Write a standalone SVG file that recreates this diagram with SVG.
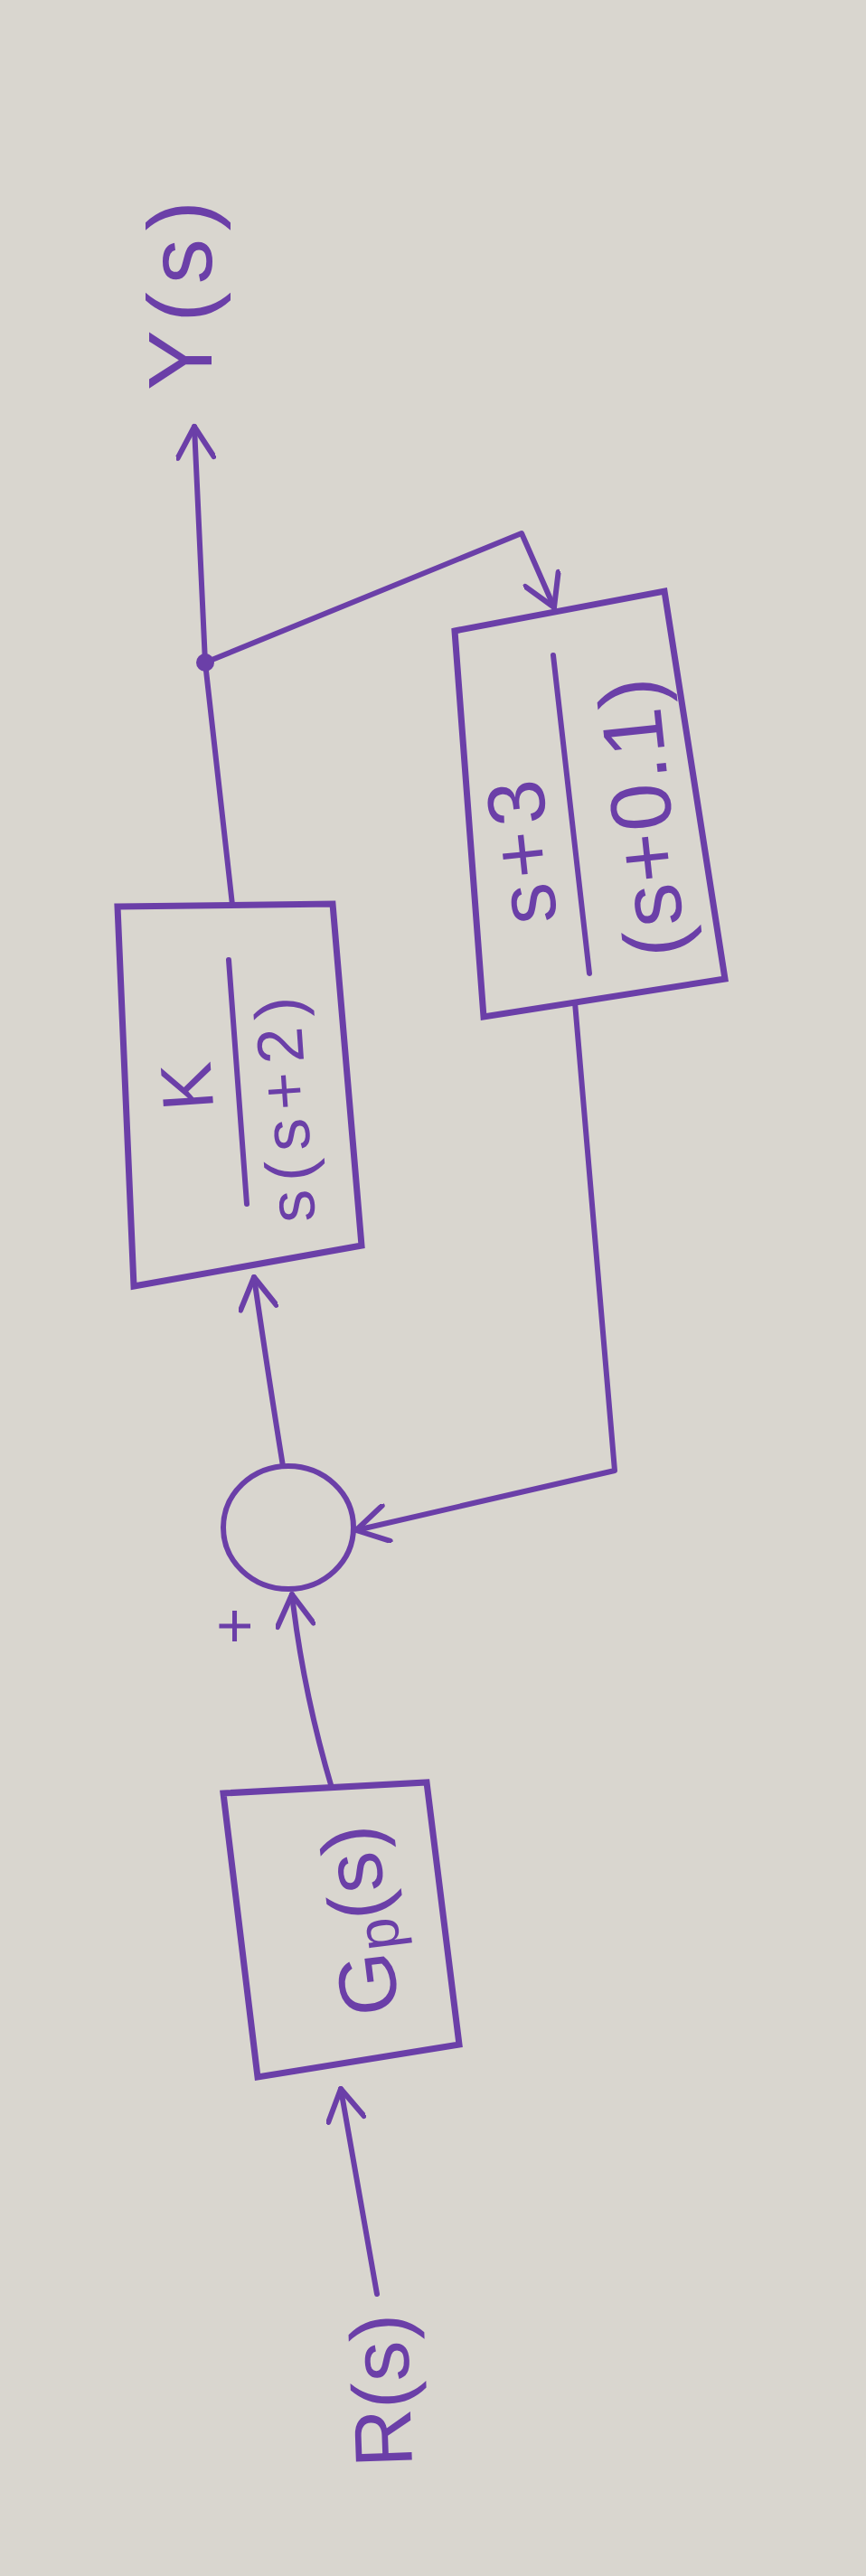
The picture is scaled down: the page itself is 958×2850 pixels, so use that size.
<svg xmlns="http://www.w3.org/2000/svg" width="958" height="2850" viewBox="0 0 958 2850">
  <defs>
    <style>
      .ln { fill: none; stroke: #6b3fa8; stroke-width: 6; stroke-linecap: round; stroke-linejoin: round; }
      .blk { fill: none; stroke: #6b3fa8; stroke-width: 7; stroke-linejoin: miter; }
      .tx { font-family: "Liberation Sans", Arial, sans-serif; fill: #6b3fa8; text-anchor: middle; dominant-baseline: central; }
    </style>
    <marker id="arr" viewBox="0 0 44 44" refX="40" refY="22" markerWidth="44" markerHeight="44" markerUnits="userSpaceOnUse" orient="auto">
      <path d="M6,2 L40,22 L6,42" fill="none" stroke="#6b3fa8" stroke-width="6" stroke-linecap="round" stroke-linejoin="round"/>
    </marker>
  </defs>

  <rect x="0" y="0" width="958" height="2850" fill="#d9d6cf"/>

  <g id="connectors">
    <path class="ln" d="M227,733 L215,472" marker-end="url(#arr)"/>
    <path class="ln" d="M227,733 L577,590 L613,672" marker-end="url(#arr)"/>
    <path class="ln" d="M257,1001 L227,733"/>
    <path class="ln" d="M313,1622 Q298,1530 281,1413" marker-end="url(#arr)"/>
    <path class="ln" d="M636,1109 L680,1627 L394,1693" marker-end="url(#arr)"/>
    <path class="ln" d="M367,1978 Q335,1870 323,1764" marker-end="url(#arr)"/>
    <path class="ln" d="M417,2538 L377,2311" marker-end="url(#arr)"/>
  </g>

  <g id="label-Y">
    <text class="tx" font-size="100" textLength="210" lengthAdjust="spacing" transform="translate(199,327) rotate(-90)">Y(s)</text>
  </g>

  <g id="pickoff">
    <circle cx="227" cy="733" r="10" fill="#6b3fa8"/>
  </g>

  <g id="block-H">
    <polygon class="blk" points="503,698 735,654 802,1083 535,1125"/>
    <line class="ln" x1="612" y1="725" x2="652" y2="1077"/>
    <text class="tx" font-size="90" textLength="160" lengthAdjust="spacing" transform="translate(577,943) rotate(-96)">s+3</text>
    <text class="tx" font-size="95" textLength="310" lengthAdjust="spacing" transform="translate(710,905) rotate(-96)">(s+0.1)</text>
  </g>

  <g id="block-K">
    <polygon class="blk" points="130,1003 368,1000 400,1378 148,1423"/>
    <line class="ln" x1="253" y1="1062" x2="273" y2="1332"/>
    <text class="tx" font-size="80" transform="translate(207,1202) rotate(-94)">K</text>
    <text class="tx" font-size="72" textLength="250" lengthAdjust="spacing" transform="translate(315,1228) rotate(-94)">s(s+2)</text>
  </g>

  <g id="sum">
    <ellipse class="ln" cx="319" cy="1690" rx="72" ry="68"/>
    <text class="tx" font-size="70" transform="translate(259,1799) rotate(-90)">+</text>
  </g>

  <g id="block-Gp">
    <polygon class="blk" points="247,1984 472,1972 508,2262 285,2298"/>
    <text class="tx" font-size="90" transform="translate(398,2125) rotate(-97)">G<tspan font-size="65" dy="18">p</tspan><tspan dy="-18">(s)</tspan></text>
  </g>

  <g id="label-R">
    <text class="tx" font-size="90" transform="translate(422,2645) rotate(-92)">R(s)</text>
  </g>
</svg>
